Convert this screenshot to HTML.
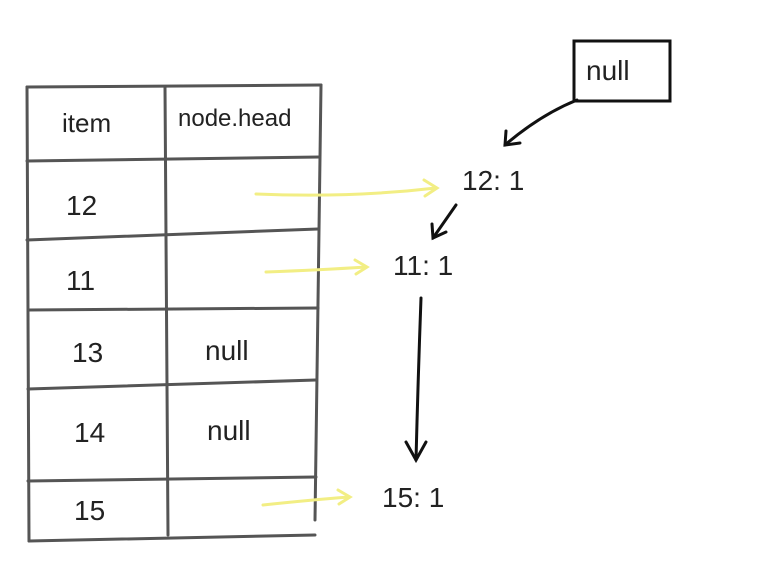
<!DOCTYPE html>
<html><head><meta charset="utf-8"><style>
html,body{margin:0;padding:0;background:#fff;}
svg{display:block;}
text{font-family:"Liberation Sans",sans-serif;fill:#222;}
</style></head><body>
<svg width="775" height="561" viewBox="0 0 775 561" xmlns="http://www.w3.org/2000/svg">
<g stroke="#555" stroke-width="3" fill="none" stroke-linecap="round">
<path d="M27 87 L321 85"/>
<path d="M27 87 L29 541"/>
<path d="M321 85 L315 520"/>
<path d="M29 541 L315 535"/>
<path d="M165 87 L168 535"/>
<path d="M27 161 L320 157"/>
<path d="M27 240 L318 229"/>
<path d="M28 310 L318 308"/>
<path d="M28 389 L316 380"/>
<path d="M28 481 L316 477"/>
</g>
<g font-size="28">
<text x="62" y="132" font-size="26">item</text>
<text x="178" y="126" font-size="24">node.head</text>
<text x="66" y="215">12</text>
<text x="66" y="290">11</text>
<text x="72" y="362">13</text>
<text x="74" y="442">14</text>
<text x="74" y="520">15</text>
<text x="205" y="360">null</text>
<text x="207" y="440">null</text>
<text x="462" y="190">12: 1</text>
<text x="393" y="275">11: 1</text>
<text x="382" y="507">15: 1</text>
<text x="586" y="80">null</text>
</g>
<rect x="574" y="41" width="96" height="60" fill="none" stroke="#111" stroke-width="3"/>
<g stroke="#f2ee84" stroke-width="3" fill="none" stroke-linecap="round">
<path d="M256 194 Q350 198 436 188"/><path d="M424 180 L437 188 L425 196"/>
<path d="M266 272 Q320 270 366 267"/><path d="M355 260 L367 267 L356 274"/>
<path d="M263 505 Q310 500 349 497"/><path d="M338 490 L350 497 L339 504"/>
</g>
<g stroke="#111" stroke-width="3" fill="none" stroke-linecap="round">
<path d="M577 100 Q540 115 505 145"/><path d="M506 131 L505 145 L520 143"/>
<path d="M456 205 L433 238"/><path d="M432 224 L433 238 L446 232"/>
<path d="M421 298 Q418 380 416 460"/><path d="M406 442 L416 460 L426 442"/>
</g>
</svg>
</body></html>
